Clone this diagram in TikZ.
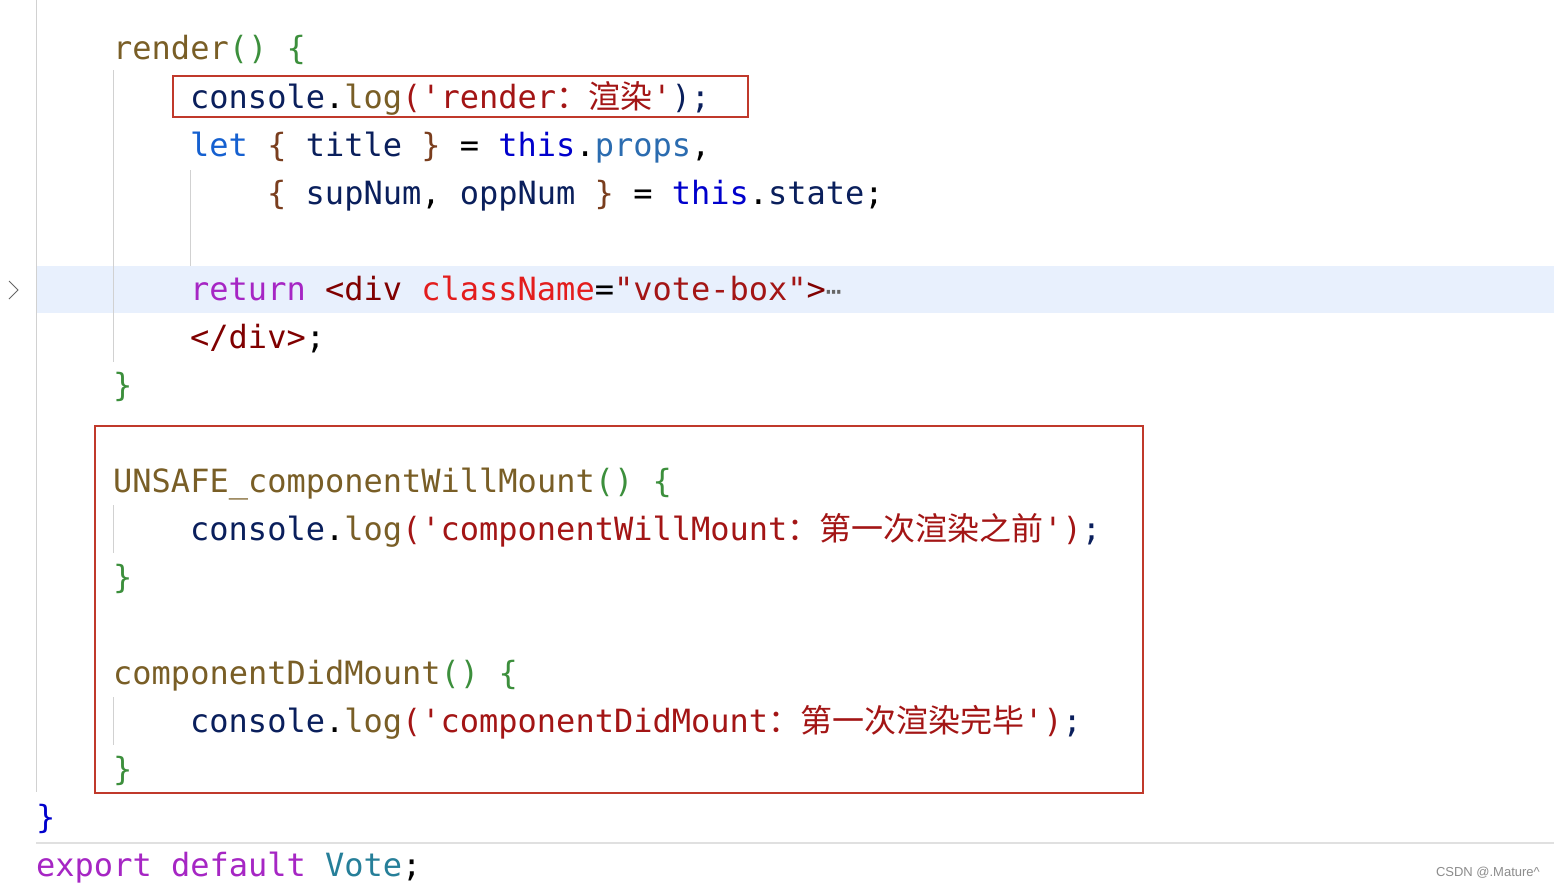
\documentclass[tikz,border=0pt]{standalone}
\usepackage{fontspec}
\setmonofont{DejaVu Sans Mono}
\newfontfamily\cjk{Noto Sans CJK SC}
\newfontfamily\wm{Liberation Sans}
\definecolor{fn}{HTML}{795E26}
\definecolor{br}{HTML}{3C8F3C}
\definecolor{bb}{HTML}{7A3E1E}
\definecolor{kw}{HTML}{0000CC}
\definecolor{lt}{HTML}{1560D0}
\definecolor{pr}{HTML}{2B6CB0}
\definecolor{id}{HTML}{0A1F5C}
\definecolor{st}{HTML}{A31515}
\definecolor{pu}{HTML}{A626C4}
\definecolor{tg}{HTML}{800000}
\definecolor{at}{HTML}{E31D1D}
\definecolor{tl}{HTML}{267F99}
\definecolor{bx}{HTML}{C0392B}
\definecolor{hl}{HTML}{E8F0FD}
\newcommand{\C}[2]{\textcolor{#1}{#2}}
\begin{document}
\begin{tikzpicture}[x=1pt,y=-1pt,
  code/.style={anchor=base west,inner sep=0pt,font=\ttfamily\fontsize{32}{38}\selectfont},
  guide/.style={draw=black!18,line width=1pt},
  redbox/.style={draw=bx,line width=1.5pt}]
\useasboundingbox (0,0) rectangle (1554,886);
\fill[white] (0,0) rectangle (1554,886);
\fill[hl] (36,266) rectangle (1554,313);
\draw[guide] (36,0) -- (36,792);
\draw[guide] (113,70) -- (113,362);
\draw[guide] (190,170) -- (190,266);
\draw[guide] (113,505) -- (113,553);
\draw[guide] (113,697) -- (113,745);
\draw[black!12,line width=1.5pt] (36,843) -- (1554,843);
\draw[black!60,line width=1pt] (9,281) -- (18,290) -- (9,299);
\node[code] (l1) at (113,59) {\C{fn}{render}\C{br}{() \{}};
\node[code] (l2) at (190,108) {\C{id}{console}.\C{fn}{log}\C{st}{(}\C{st}{'render{\cjk ：渲染}'}\C{id}{);}};
\node[code] (l3) at (190,156) {\C{lt}{let} \C{bb}{\{} \C{id}{title} \C{bb}{\}} = \C{kw}{this}.\C{pr}{props},};
\node[code] (l4) at (267,204) {\C{bb}{\{} \C{id}{supNum}, \C{id}{oppNum} \C{bb}{\}} = \C{kw}{this}.\C{id}{state};};
\node[code] (l5) at (190,300) {\C{pu}{return} \C{tg}{<div} \C{at}{className}=\C{st}{"vote-box"}\C{tg}{>}\C{black!60}{\fontsize{26}{26}\selectfont ⋯}};
\node[code] (l6) at (190,348) {\C{tg}{</div>};};
\node[code] (l7) at (113,396) {\C{br}{\}}};
\node[code] (l8) at (113,492) {\C{fn}{UNSAFE\char"5F componentWillMount}\C{br}{() \{}};
\node[code] (l9) at (190,540) {\C{id}{console}.\C{fn}{log}\C{st}{('componentWillMount{\cjk ：第一次渲染之前}')}\C{id}{;}};
\node[code] (l10) at (113,588) {\C{br}{\}}};
\node[code] (l11) at (113,684) {\C{fn}{componentDidMount}\C{br}{() \{}};
\node[code] (l12) at (190,732) {\C{id}{console}.\C{fn}{log}\C{st}{('componentDidMount{\cjk ：第一次渲染完毕}')}\C{id}{;}};
\node[code] (l13) at (113,780) {\C{br}{\}}};
\node[code] (l14) at (36,828) {\C{kw}{\}}};
\node[code] (l15) at (36,876) {\C{pu}{export} \C{pu}{default} \C{tl}{Vote};};
\draw[redbox] (173,76) rectangle (748,117);
\draw[redbox] (95,426) rectangle (1143,793);
\node[anchor=base east,inner sep=0pt,font=\wm\fontsize{13}{15}\selectfont,text=black!45] (wm) at (1540,876) {CSDN @.Mature\^{}};
\end{tikzpicture}
\end{document}
